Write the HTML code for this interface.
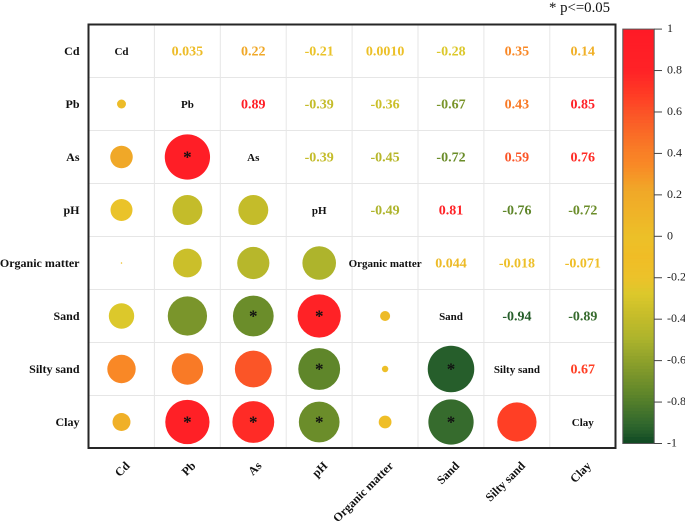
<!DOCTYPE html>
<html>
<head>
<meta charset="utf-8">
<style>
html,body{margin:0;padding:0;background:#fff;}
svg{display:block;font-family:"Liberation Serif",serif;filter:blur(0.35px);}
</style>
</head>
<body>
<svg id="chart" xmlns="http://www.w3.org/2000/svg" width="685" height="521" viewBox="0 0 685 521">
  <rect x="0" y="0" width="685" height="521" fill="#fff"/>
  <g id="grid"></g>
  <g id="cells"></g>
  <rect x="88.5" y="24.5" width="527" height="423.5" fill="none" stroke="#262626" stroke-width="2"/>
  <g id="rowLabels"></g>
  <g id="colLabels"></g>
  <g id="colorbar"></g>
  <text x="549" y="12" font-size="14.8" fill="#111">* p&lt;=0.05</text>
</svg>
<script>
const variables = ["Cd", "Pb", "As", "pH", "Organic matter", "Sand", "Silty sand", "Clay"];
const correlations = [
  [1, 0.035, 0.22, -0.21, 0.0010, -0.28, 0.35, 0.14],
  [0.035, 1, 0.89, -0.39, -0.36, -0.67, 0.43, 0.85],
  [0.22, 0.89, 1, -0.39, -0.45, -0.72, 0.59, 0.76],
  [-0.21, -0.39, -0.39, 1, -0.49, 0.81, -0.76, -0.72],
  [0.0010, -0.36, -0.45, -0.49, 1, 0.044, -0.018, -0.071],
  [-0.28, -0.67, -0.72, 0.81, 0.044, 1, -0.94, -0.89],
  [0.35, 0.43, 0.59, -0.76, -0.018, -0.94, 1, 0.67],
  [0.14, 0.85, 0.76, -0.72, -0.071, -0.89, 0.67, 1]
];
const significant = [
  [0, 0, 0, 0, 0, 0, 0, 0],
  [0, 0, 0, 0, 0, 0, 0, 0],
  [0, 1, 0, 0, 0, 0, 0, 0],
  [0, 0, 0, 0, 0, 0, 0, 0],
  [0, 0, 0, 0, 0, 0, 0, 0],
  [0, 0, 1, 1, 0, 0, 0, 0],
  [0, 0, 0, 1, 0, 1, 0, 0],
  [0, 1, 1, 1, 0, 1, 0, 0]
];
const colorbarTicks = [1, 0.8, 0.6, 0.4, 0.2, 0, -0.2, -0.4, -0.6, -0.8, -1];
const scaleValues = [1, 0.8, 0.67, 0.59, 0.43, 0.35, 0.22, 0.14, 0, -0.1, -0.2, -0.28, -0.39, -0.49, -0.67, -0.76, -0.89, -0.94, -1];
const scaleColors = ["#ff1a26", "#ff2226", "#ff3f25", "#fb5527", "#f97a26", "#f98826", "#f0a828", "#f0b028", "#ecc028", "#f0bd26", "#ecc22a", "#dcc82b", "#c4bc2a", "#aeb42c", "#7a952b", "#5f862a", "#366b2d", "#265e2b", "#0e4722"];

const NS = "http://www.w3.org/2000/svg";
const xCell = i => 121.5 + 65.9 * i;
const yCell = i => 51 + 53 * i;
const xLine = i => 88.5 + 65.9 * i;
const yLine = i => 24.5 + 53 * i;
const radius = v => 24 * Math.sqrt(Math.abs(v));
const yBar = v => 236.3 - 207.2 * v;
const slug = s => s.toLowerCase().replace(/\s+/g, "-");

function make(tag, attrs, parent, text) {
  const el = document.createElementNS(NS, tag);
  for (const k in attrs) el.setAttribute(k, attrs[k]);
  if (text !== undefined) el.textContent = text;
  parent.appendChild(el);
  return el;
}
function hex(c) {
  return [1, 3, 5].map(i => parseInt(c.substr(i, 2), 16));
}
function colorFor(v) {
  const x = Math.max(-1, Math.min(1, v));
  for (let i = 0; i < scaleValues.length - 1; i++) {
    if (x <= scaleValues[i] && x >= scaleValues[i + 1]) {
      const t = (scaleValues[i] - x) / (scaleValues[i] - scaleValues[i + 1]);
      const a = hex(scaleColors[i]), b = hex(scaleColors[i + 1]);
      return "rgb(" + a.map((q, j) => Math.round(q + (b[j] - q) * t)).join(",") + ")";
    }
  }
  return scaleColors[0];
}

const grid = document.getElementById("grid");
for (let i = 1; i < variables.length; i++) {
  const vl = make("line", {x1: xLine(i), x2: xLine(i), y1: 25, y2: 448, stroke: "#e6e6e6", "stroke-width": 1}, grid);
  
  
  const hl = make("line", {x1: 89, x2: 615, y1: yLine(i), y2: yLine(i), stroke: "#e6e6e6", "stroke-width": 1}, grid);
  
  
}

const cells = document.getElementById("cells");
correlations.forEach((row, r) => {
  row.forEach((v, c) => {
    const id = slug(variables[r]) + "-" + slug(variables[c]);
    if (r === c) {
      const d = make("text", {x: xCell(c), y: yCell(r) + 4, "text-anchor": "middle", "font-size": 11, "font-weight": "bold", fill: "#111"}, cells, variables[r]);
      
      
    } else if (c > r) {
      const t = make("text", {x: xCell(c), y: yCell(r) + 4.7, "text-anchor": "middle", "font-size": 14, "font-weight": "bold", fill: colorFor(v)}, cells, v.toPrecision(2));
      
      
    } else {
      const m = make("circle", {cx: xCell(c), cy: yCell(r), r: radius(v), fill: colorFor(v)}, cells);
      
      
      if (significant[r][c]) {
        const s = make("text", {x: xCell(c), y: yCell(r) + 5.5, "text-anchor": "middle", "font-size": 17, "font-weight": "bold", fill: "#111"}, cells, "*");
        
        
      }
    }
  });
});

const rowLabels = document.getElementById("rowLabels");
const colLabels = document.getElementById("colLabels");
variables.forEach((name, i) => {
  const rl = make("text", {x: 79.5, y: yCell(i) + 4, "text-anchor": "end", "font-size": 12, "font-weight": "bold", fill: "#111"}, rowLabels, name);
  
  
  const ax = xCell(i) + 9, ay = 466.5;
  const cl = make("text", {x: ax, y: ay, "text-anchor": "end", "font-size": 12, "font-weight": "bold", fill: "#111", transform: "rotate(-45 " + ax + " " + ay + ")"}, colLabels, name);
  
  
});

const bar = document.getElementById("colorbar");
const bandCount = 128;
for (let i = 0; i < bandCount; i++) {
  const hi = 1 - 2 * i / bandCount, lo = 1 - 2 * (i + 1) / bandCount;
  const band = make("rect", {x: 623, y: yBar(hi), width: 31, height: yBar(lo) - yBar(hi) + 0.5, fill: colorFor((hi + lo) / 2)}, bar);
  
  
}
const outline = make("rect", {x: 622.8, y: yBar(1), width: 31.4, height: yBar(-1) - yBar(1), fill: "none", stroke: "#555", "stroke-width": 1}, bar);


colorbarTicks.forEach(v => {
  const tk = make("line", {x1: 654, x2: 662, y1: yBar(v), y2: yBar(v), stroke: "#444", "stroke-width": 1}, bar);
  
  
  const lb = make("text", {x: 667, y: yBar(v) + 3, "font-size": 12, fill: "#222"}, bar, String(v));
  
  
});
</script>
</body>
</html>
